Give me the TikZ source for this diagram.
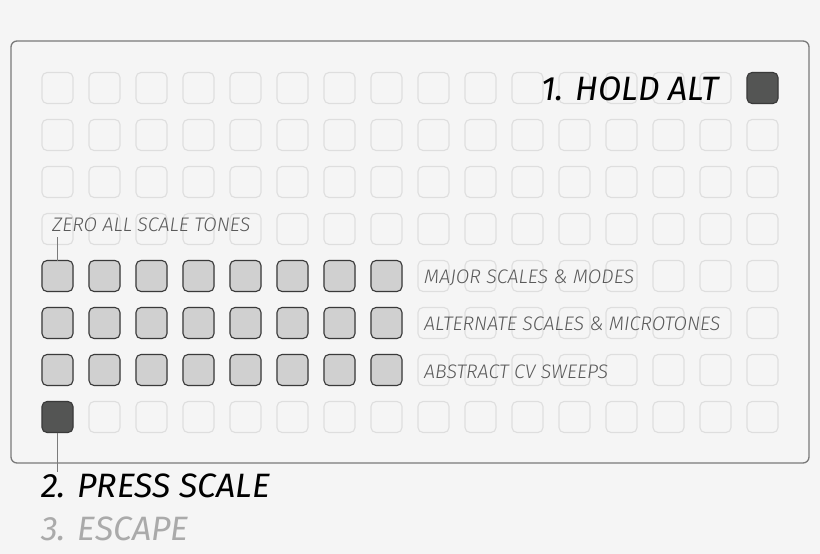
\documentclass[tikz,border=0pt]{standalone}
\usepackage{fontspec}
\setmainfont{Fira Sans Light}[ItalicFont={Fira Sans Light Italic}]
\newfontfamily\bigfont{Fira Sans}[ItalicFont={Fira Sans Italic}]
\definecolor{bg}{HTML}{F5F5F5}
\definecolor{padline}{HTML}{DEDEDE}
\definecolor{padfill}{HTML}{D0D0D0}
\definecolor{paddark}{HTML}{545554}
\definecolor{padedge}{HTML}{3A3A3A}
\definecolor{frame}{HTML}{7A7A7A}
\definecolor{labelc}{HTML}{5A5A5A}
\definecolor{escc}{HTML}{AAAAAA}
\begin{document}
\begin{tikzpicture}[x=1pt,y=-1pt,
  pad/.style={draw=padline,line width=1.1pt,rounded corners=5pt,minimum width=31pt,minimum height=31pt,inner sep=0pt,outer sep=0pt},
  padon/.style={pad,draw=padedge,fill=padfill},
  paddk/.style={pad,draw=padedge,fill=paddark},
  small/.style={font=\fontsize{19.6}{22}\selectfont\itshape,text=labelc,inner sep=0pt,anchor=base west},
  big/.style={font=\bigfont\fontsize{33.8}{36}\selectfont\itshape,inner sep=0pt,anchor=base west},
  lead/.style={draw=labelc!80,line width=0.9pt}]
\fill[bg] (0,0) rectangle (820,554);
\useasboundingbox (0,0) rectangle (820,554);
\draw[frame,line width=1.3pt,rounded corners=6pt] (11,41) rectangle (809,463);
\foreach \r in {1,...,8}{
  \foreach \c in {1,...,16}{
    \node[pad] (p-\r-\c) at ({57.5+47*(\c-1)},{88+47*(\r-1)}) {};
  }
}
\foreach \r in {5,6,7}{
  \foreach \c in {1,...,8}{
    \node[padon] at (p-\r-\c) {};
  }
}
\node[paddk] at (p-1-16) {};
\node[paddk] at (p-8-1) {};
\node[big,text=black] (hold) at (541,100) {1. HOLD ALT};
\node[small] (zero) at (52,231) {ZERO ALL SCALE TONES};
\node[small] (major) at (424,283) {MAJOR SCALES \& MODES};
\node[small] (alt) at (424,330) {ALTERNATE SCALES \& MICROTONES};
\node[small] (abs) at (424,378) {ABSTRACT CV SWEEPS};
\node[big,text=black] (press) at (41,497) {2. PRESS SCALE};
\node[big,text=escc] (esc) at (41,540) {3. ESCAPE};
\coordinate (zb) at (57.5,237);
\coordinate (pt) at (57.5,472);
\draw[lead] (zb) -- (p-5-1.north);
\draw[lead] (p-8-1.south) -- (pt);
\end{tikzpicture}
\end{document}
